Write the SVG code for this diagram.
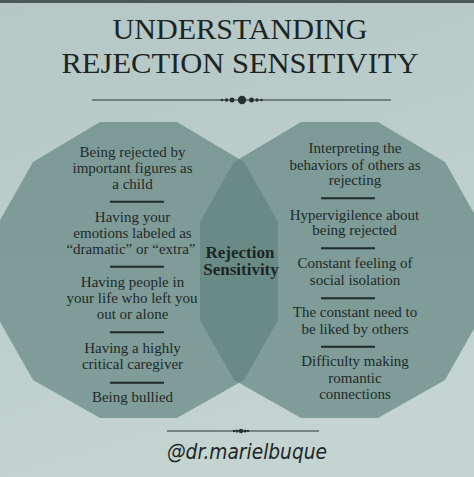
<svg xmlns="http://www.w3.org/2000/svg" width="474" height="477" viewBox="0 0 474 477">
<defs>
<linearGradient id="bg" x1="0" y1="0" x2="0.3" y2="1">
<stop offset="0" stop-color="#b4c7c4"/>
<stop offset="1" stop-color="#c3d4d1"/>
</linearGradient>
<linearGradient id="poly" x1="0" y1="0" x2="0" y2="1">
<stop offset="0" stop-color="#7d9a96"/>
<stop offset="1" stop-color="#809d99"/>
</linearGradient>
</defs>
<style>
.t{font-family:"Liberation Serif","Times New Roman",serif;font-size:15px;fill:#1e2a2a;text-anchor:middle}
.title{font-family:"Liberation Serif","Times New Roman",serif;font-size:30px;fill:#1c2424;text-anchor:middle}
.c{font-family:"Liberation Serif","Times New Roman",serif;font-size:17px;font-weight:bold;fill:#1c2626;text-anchor:middle}
.div{stroke:#1f2a2a;stroke-width:2}
.orn{stroke:#2a3434;stroke-width:1.2}
.dot{fill:#253030}
</style>
<rect x="0" y="0" width="474" height="477" fill="url(#bg)"/>
<rect x="0" y="0" width="474" height="3" fill="#4a5858"/>

<g id="title">
<text class="title" x="240" y="39" textLength="255" lengthAdjust="spacingAndGlyphs">UNDERSTANDING</text>
<text class="title" x="240" y="73" textLength="357" lengthAdjust="spacingAndGlyphs">REJECTION SENSITIVITY</text>
<line class="orn" x1="92" y1="100" x2="391" y2="100"/>
<circle class="dot" cx="222" cy="100" r="1.3"/>
<circle class="dot" cx="226.5" cy="100" r="1.8"/>
<circle class="dot" cx="232" cy="100" r="2.5"/>
<circle class="dot" cx="242" cy="100" r="4.2"/>
<circle class="dot" cx="251.5" cy="100" r="2.5"/>
<circle class="dot" cx="257" cy="100" r="1.8"/>
<circle class="dot" cx="261.5" cy="100" r="1.3"/>
</g>

<g id="left-circle">
<polygon points="100,122 177,122 244,162 278,222 278,320 244,380 177,418 100,418 33,380 -1,320 -1,222 33,162" fill="url(#poly)"/>
</g>
<g id="right-circle">
<polygon points="301,122 378,122 445,162 479,222 479,320 445,380 378,418 301,418 234,380 200,320 200,222 234,162" fill="url(#poly)"/>
</g>
<g id="center">
<polygon points="239,159 244,162 278,222 278,320 244,380 239,383 234,380 200,320 200,222 234,162" fill="#6a8a85"/>
<text class="c" x="240" y="257.5">Rejection</text>
<text class="c" x="241" y="275">Sensitivity</text>
</g>

<g id="connectors">
<line class="div" x1="110" y1="201.7" x2="164" y2="201.7"/>
<line class="div" x1="110" y1="266.7" x2="164" y2="266.7"/>
<line class="div" x1="110" y1="332.3" x2="164" y2="332.3"/>
<line class="div" x1="110" y1="382.7" x2="164" y2="382.7"/>
<line class="div" x1="321" y1="198.3" x2="375" y2="198.3"/>
<line class="div" x1="321" y1="248.3" x2="375" y2="248.3"/>
<line class="div" x1="321" y1="298.3" x2="375" y2="298.3"/>
<line class="div" x1="321" y1="346.7" x2="375" y2="346.7"/>
</g>

<g id="cause-1">
<text class="t" x="132.5" y="156.7">Being rejected by</text>
<text class="t" x="132.5" y="173.3">important figures as</text>
<text class="t" x="132.5" y="188.5">a child</text>
</g>
<g id="cause-2">
<text class="t" x="132.5" y="221.7">Having your</text>
<text class="t" x="132.5" y="238.3">emotions labeled as</text>
<text class="t" x="131" y="253.5">“dramatic” or “extra”</text>
</g>
<g id="cause-3">
<text class="t" x="132.5" y="286.7">Having people in</text>
<text class="t" x="132" y="303.3">your life who left you</text>
<text class="t" x="132.5" y="319.3">out or alone</text>
</g>
<g id="cause-4">
<text class="t" x="132.5" y="353.3">Having a highly</text>
<text class="t" x="132.5" y="368.5">critical caregiver</text>
</g>
<g id="cause-5">
<text class="t" x="132.5" y="401.7">Being bullied</text>
</g>

<g id="effect-1">
<text class="t" x="355" y="153.3">Interpreting the</text>
<text class="t" x="355" y="170">behaviors of others as</text>
<text class="t" x="355" y="185">rejecting</text>
</g>
<g id="effect-2">
<text class="t" x="354.5" y="220">Hypervigilence about</text>
<text class="t" x="354.5" y="235">being rejected</text>
</g>
<g id="effect-3">
<text class="t" x="355" y="268.3">Constant feeling of</text>
<text class="t" x="355" y="285">social isolation</text>
</g>
<g id="effect-4">
<text class="t" x="355" y="317.3">The constant need to</text>
<text class="t" x="355" y="334">be liked by others</text>
</g>
<g id="effect-5">
<text class="t" x="355" y="366">Difficulty making</text>
<text class="t" x="355" y="382.7">romantic</text>
<text class="t" x="355" y="399.3">connections</text>
</g>

<g id="signature">
<line class="orn" x1="167" y1="431" x2="319" y2="431" stroke-width="1"/>
<circle class="dot" cx="234" cy="431" r="1.2"/>
<circle class="dot" cx="237" cy="431" r="1.6"/>
<circle class="dot" cx="241" cy="431" r="2.3"/>
<circle class="dot" cx="245" cy="431" r="1.6"/>
<circle class="dot" cx="248" cy="431" r="1.2"/>
<text x="247" y="459" font-family="'DejaVu Sans','Liberation Sans',sans-serif" font-size="22" font-style="italic" font-weight="200" fill="#1e2626" text-anchor="middle" textLength="160" lengthAdjust="spacingAndGlyphs">@dr.marielbuque</text>
</g>
</svg>
